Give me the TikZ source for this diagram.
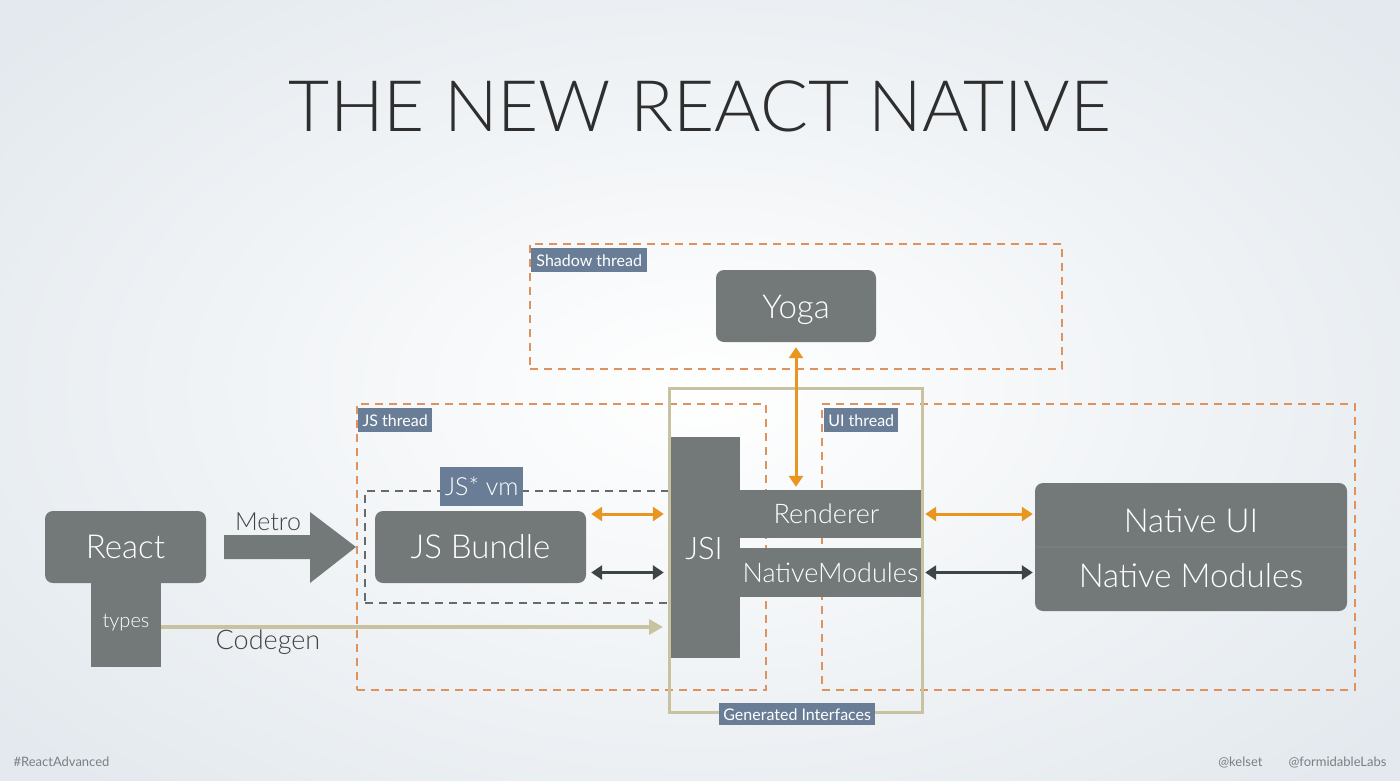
\documentclass[tikz,border=0pt]{standalone}
\usepackage{fontspec}
\setmainfont{Lato}
\newfontfamily\lightfont{Lato Light}
\usetikzlibrary{arrows.meta}
\definecolor{bgout}{HTML}{E3E9EE}
\definecolor{boxgray}{HTML}{737979}
\definecolor{tagblue}{HTML}{6A7D97}
\definecolor{dorange}{HTML}{E0925C}
\definecolor{aorange}{HTML}{E8961F}
\definecolor{khaki}{HTML}{C7C2A0}
\definecolor{darkarrow}{HTML}{3E4547}
\definecolor{titlecol}{HTML}{2E2E2E}
\definecolor{footcol}{HTML}{7A7F82}
\newcommand{\fs}[1]{\fontsize{#1}{#1}\selectfont}
\tikzset{
  thread/.style={draw=dorange, line width=1.4pt, dash pattern=on 8pt off 6pt, inner sep=0pt},
  gbox/.style={fill=boxgray, text=white, inner sep=0pt, rounded corners=8pt},
  flatbox/.style={fill=boxgray, text=white, inner sep=0pt},
  tag/.style={fill=tagblue, text=white, inner sep=0pt, anchor=north west},
  oarrow/.style={draw=aorange, line width=3pt, {Triangle[length=11pt,width=14pt]}-{Triangle[length=11pt,width=14pt]}},
  darrow/.style={draw=darkarrow, line width=2.8pt, {Triangle[length=11pt,width=14pt]}-{Triangle[length=11pt,width=14pt]}},
}
\begin{document}
\begin{tikzpicture}[x=1pt,y=-1pt]
\useasboundingbox (0,0) rectangle (1400,780);
\shade[inner color=white, outer color=bgout] (-200,-150) rectangle (1600,930);
% title
\node[text=titlecol, font=\lightfont\fs{71}] (title) at (700,106) {THE NEW REACT NATIVE};
% thread boxes
\node[thread, minimum width=532pt, minimum height=125pt] (shadow) at (796,306.5) {};
\node[thread, minimum width=409pt, minimum height=286pt] (jsthread) at (561.5,547) {};
\node[thread, minimum width=533pt, minimum height=286pt] (uithread) at (1088.5,547) {};
% JS vm box
\node[draw=darkarrow!80, line width=1.2pt, dash pattern=on 8pt off 6pt, minimum width=306pt, minimum height=112pt, inner sep=0pt] (vm) at (518,547) {};
% generated interfaces
\node[draw=khaki, line width=3pt, minimum width=253pt, minimum height=324pt, inner sep=0pt] (gen) at (795.5,550) {};
% labels
\node[tag, font=\fs{16}, minimum width=116pt, minimum height=24pt] (shadowlbl) at (531,248) {Shadow thread};
\node[tag, font=\fs{16}, minimum width=74pt, minimum height=24pt] (jslbl) at (358,408) {JS thread};
\node[tag, font=\fs{16}, minimum width=74pt, minimum height=24pt] (uilbl) at (824,408) {UI thread};
\node[tag, font=\lightfont\fs{25}, minimum width=83pt, minimum height=39pt] (vmlbl) at (440,467) {JS* vm};
\node[tag, font=\fs{16}, minimum width=156pt, minimum height=22pt] (genlbl) at (719,703) {Generated Interfaces};
% boxes
\node[gbox, minimum width=160pt, minimum height=72pt] (yoga) at (796,306) {};
\node[text=white, font=\lightfont\fs{33}] (yogat) at (796,310) {Yoga};
\node[gbox, font=\lightfont\fs{33}, minimum width=211pt, minimum height=72pt] (bundle) at (480.5,547) {JS Bundle};
\node[flatbox, minimum width=69pt, minimum height=221pt] (jsi) at (705.5,547.5) {};
\node[font=\lightfont\fs{31}, text=white] (jsit) at (704,549) {JSI};
\node[flatbox, font=\lightfont\fs{27}, minimum width=181pt, minimum height=48pt] (renderer) at (830.5,514) {\hspace*{-8pt}Renderer};
\node[flatbox, font=\lightfont\fs{27}, minimum width=181pt, minimum height=49pt] (nmods) at (830.5,572.5) {NativeModules};
\node[gbox, minimum width=312pt, minimum height=128pt] (native) at (1191,547) {};
\draw[draw=darkarrow!70, line width=1.5pt] (native.west |- 0,547) -- (native.east |- 0,547);
\node[text=white, font=\lightfont\fs{33}] (nui) at (1191,521) {Native UI};
\node[text=white, font=\lightfont\fs{33}] (nmod2) at (1191,576) {Native Modules};
% React
\node[flatbox, minimum width=70pt, minimum height=84pt] (stem) at (126,625) {};
\node[gbox, font=\lightfont\fs{33}, minimum width=161pt, minimum height=72pt] (react) at (125.5,547) {React};
\node[text=white, font=\lightfont\fs{20}] (types) at (126,623) {types};
% Metro block arrow
\fill[boxgray] (224,535) -- (310,535) -- (310,512) -- (356,547) -- (310,583) -- (310,559) -- (224,559) -- cycle;
\node[font=\lightfont\fs{25}, text=titlecol!90] (metro) at (268,522) {Metro};
% Codegen arrow
\draw[draw=khaki, line width=4pt, -{Triangle[length=14pt,width=15pt]}] (stem.east |- 0,627) -- (663,627);
\node[font=\lightfont\fs{27}, text=titlecol!90] (codegen) at (268,642) {Codegen};
% arrows
\draw[oarrow, shorten <=5pt, shorten >=3pt] (yoga.south) -- (renderer.north -| yoga.south);
\draw[oarrow, shorten <=5pt, shorten >=7pt] (bundle.east |- renderer) -- (jsi.west |- renderer);
\draw[darrow, shorten <=5pt, shorten >=7pt] (bundle.east |- nmods) -- (jsi.west |- nmods);
\draw[oarrow, shorten <=4pt, shorten >=2pt] (renderer.east) -- (native.west |- renderer);
\draw[darrow, shorten <=4pt, shorten >=2pt] (nmods.east) -- (native.west |- nmods);
% footer
\node[font=\fs{13}, text=footcol, anchor=west] (f1) at (10,762) {\#ReactAdvanced};
\node[font=\fs{13}, text=footcol, anchor=east] (f3) at (1390,762) {@formidableLabs};
\node[font=\fs{13}, text=footcol, anchor=east] (f2) at (1266,762) {@kelset};
\end{tikzpicture}
\end{document}
